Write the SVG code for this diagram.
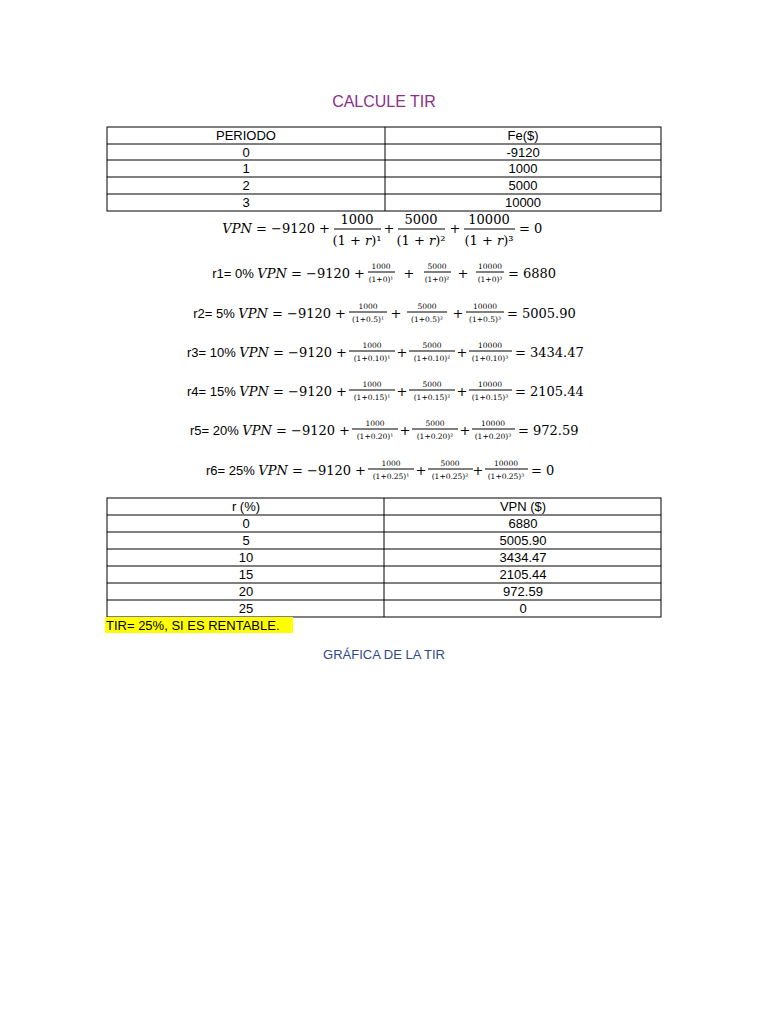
<svg xmlns="http://www.w3.org/2000/svg" width="768" height="1024" viewBox="0 0 768 1024">
<style>
.s{font-family:"Liberation Sans",Arial,sans-serif;font-size:13px;fill:#000}
.c{text-anchor:middle}
.m{font-family:"DejaVu Serif","Liberation Serif",serif;font-size:13px;fill:#000}
.i{font-style:italic}
.f{font-family:"DejaVu Serif","Liberation Serif",serif;font-size:7.5px;text-anchor:middle}
.g{stroke:#000;stroke-width:1;fill:none}
</style>
<rect width="768" height="1024" fill="#fff"/>
<text x="384" y="107" class="s c" style="font-size:16px;fill:#8B2F87">CALCULE TIR</text>
<g id="table1">
<rect x="107" y="127" width="554" height="84" class="g"/>
<path d="M107 144H661M107 160H661M107 177H661M107 194H661M385 127V211" class="g"/>
<text x="246" y="140" class="s c">PERIODO</text><text x="523" y="140" class="s c">Fe($)</text>
<text x="246" y="157" class="s c">0</text><text x="523" y="157" class="s c">-9120</text>
<text x="246" y="173" class="s c">1</text><text x="523" y="173" class="s c">1000</text>
<text x="246" y="190" class="s c">2</text><text x="523" y="190" class="s c">5000</text>
<text x="246" y="207" class="s c">3</text><text x="523" y="207" class="s c">10000</text>
</g>
<g id="formula0">
<text x="330" y="233" class="m" text-anchor="end"><tspan class="i">VPN</tspan> = −9120 +</text>
<text x="357" y="224" class="m c" text-anchor="middle">1000</text><path d="M334 229H381" class="g"/><text x="357" y="245" class="m" text-anchor="middle">(1 + <tspan class="i">r</tspan>)¹</text>
<text x="389" y="233" class="m" text-anchor="middle">+</text>
<text x="421" y="224" class="m" text-anchor="middle">5000</text><path d="M398 229H445" class="g"/><text x="421" y="245" class="m" text-anchor="middle">(1 + <tspan class="i">r</tspan>)²</text>
<text x="455" y="233" class="m" text-anchor="middle">+</text>
<text x="489" y="224" class="m" text-anchor="middle">10000</text><path d="M464 229H515" class="g"/><text x="489" y="245" class="m" text-anchor="middle">(1 + <tspan class="i">r</tspan>)³</text>
<text x="519" y="233" class="m">= 0</text>
</g>
<g id="r1">
<text x="365" y="278" class="m" text-anchor="end"><tspan class="s">r1= 0% </tspan><tspan class="i">VPN</tspan> = −9120 +</text>
<text x="381" y="269" class="f">1000</text><path d="M368 272H395" class="g" stroke-width=".7"/><text x="381" y="282" class="f">(1+0)¹</text>
<text x="409" y="278" class="m" text-anchor="middle">+</text>
<text x="437" y="269" class="f">5000</text><path d="M424 272H451" class="g" stroke-width=".7"/><text x="437" y="282" class="f">(1+0)²</text>
<text x="463" y="278" class="m" text-anchor="middle">+</text>
<text x="490" y="269" class="f">10000</text><path d="M476 272H504" class="g" stroke-width=".7"/><text x="490" y="282" class="f">(1+0)³</text>
<text x="508" y="278" class="m">= 6880</text>
</g>
<g id="r2">
<text x="346" y="318" class="m" text-anchor="end"><tspan class="s">r2= 5% </tspan><tspan class="i">VPN</tspan> = −9120 +</text>
<text x="368" y="309" class="f">1000</text><path d="M349 312H387" class="g" stroke-width=".7"/><text x="368" y="322" class="f">(1+0.5)¹</text>
<text x="396" y="318" class="m" text-anchor="middle">+</text>
<text x="427" y="309" class="f">5000</text><path d="M407 312H447" class="g" stroke-width=".7"/><text x="427" y="322" class="f">(1+0.5)²</text>
<text x="458" y="318" class="m" text-anchor="middle">+</text>
<text x="485" y="309" class="f">10000</text><path d="M466 312H504" class="g" stroke-width=".7"/><text x="485" y="322" class="f">(1+0.5)³</text>
<text x="507" y="318" class="m">= 5005.90</text>
</g>
<g id="r3">
<text x="347" y="357" class="m" text-anchor="end"><tspan class="s">r3= 10% </tspan><tspan class="i">VPN</tspan> = −9120 +</text>
<text x="372" y="348" class="f">1000</text><path d="M349 351H395" class="g" stroke-width=".7"/><text x="372" y="361" class="f">(1+0.10)¹</text>
<text x="402" y="357" class="m" text-anchor="middle">+</text>
<text x="432" y="348" class="f">5000</text><path d="M409 351H455" class="g" stroke-width=".7"/><text x="432" y="361" class="f">(1+0.10)²</text>
<text x="462" y="357" class="m" text-anchor="middle">+</text>
<text x="490" y="348" class="f">10000</text><path d="M469 351H512" class="g" stroke-width=".7"/><text x="490" y="361" class="f">(1+0.10)³</text>
<text x="515" y="357" class="m">= 3434.47</text>
</g>
<g id="r4">
<text x="347" y="396" class="m" text-anchor="end"><tspan class="s">r4= 15% </tspan><tspan class="i">VPN</tspan> = −9120 +</text>
<text x="372" y="387" class="f">1000</text><path d="M349 390H395" class="g" stroke-width=".7"/><text x="372" y="400" class="f">(1+0.15)¹</text>
<text x="402" y="396" class="m" text-anchor="middle">+</text>
<text x="432" y="387" class="f">5000</text><path d="M409 390H455" class="g" stroke-width=".7"/><text x="432" y="400" class="f">(1+0.15)²</text>
<text x="462" y="396" class="m" text-anchor="middle">+</text>
<text x="490" y="387" class="f">10000</text><path d="M469 390H512" class="g" stroke-width=".7"/><text x="490" y="400" class="f">(1+0.15)³</text>
<text x="515" y="396" class="m">= 2105.44</text>
</g>
<g id="r5">
<text x="350" y="435" class="m" text-anchor="end"><tspan class="s">r5= 20% </tspan><tspan class="i">VPN</tspan> = −9120 +</text>
<text x="375" y="426" class="f">1000</text><path d="M352 429H398" class="g" stroke-width=".7"/><text x="375" y="439" class="f">(1+0.20)¹</text>
<text x="405" y="435" class="m" text-anchor="middle">+</text>
<text x="435" y="426" class="f">5000</text><path d="M412 429H458" class="g" stroke-width=".7"/><text x="435" y="439" class="f">(1+0.20)²</text>
<text x="465" y="435" class="m" text-anchor="middle">+</text>
<text x="493" y="426" class="f">10000</text><path d="M472 429H515" class="g" stroke-width=".7"/><text x="493" y="439" class="f">(1+0.20)³</text>
<text x="518" y="435" class="m">= 972.59</text>
</g>
<g id="r6">
<text x="366" y="475" class="m" text-anchor="end"><tspan class="s">r6= 25% </tspan><tspan class="i">VPN</tspan> = −9120 +</text>
<text x="391" y="466" class="f">1000</text><path d="M368 469H414" class="g" stroke-width=".7"/><text x="391" y="479" class="f">(1+0.25)¹</text>
<text x="421" y="475" class="m" text-anchor="middle">+</text>
<text x="450" y="466" class="f">5000</text><path d="M428 469H473" class="g" stroke-width=".7"/><text x="450" y="479" class="f">(1+0.25)²</text>
<text x="478" y="475" class="m" text-anchor="middle">+</text>
<text x="506" y="466" class="f">10000</text><path d="M485 469H528" class="g" stroke-width=".7"/><text x="506" y="479" class="f">(1+0.25)³</text>
<text x="531" y="475" class="m">= 0</text>
</g>
<g id="table2">
<rect x="107" y="498" width="554" height="119" class="g"/>
<path d="M107 515H661M107 532H661M107 549H661M107 566H661M107 583H661M107 600H661M384 498V617" class="g"/>
<text x="246" y="511" class="s c">r (%)</text><text x="523" y="511" class="s c">VPN ($)</text>
<text x="246" y="528" class="s c">0</text><text x="523" y="528" class="s c">6880</text>
<text x="246" y="545" class="s c">5</text><text x="523" y="545" class="s c">5005.90</text>
<text x="246" y="562" class="s c">10</text><text x="523" y="562" class="s c">3434.47</text>
<text x="246" y="579" class="s c">15</text><text x="523" y="579" class="s c">2105.44</text>
<text x="246" y="596" class="s c">20</text><text x="523" y="596" class="s c">972.59</text>
<text x="246" y="613" class="s c">25</text><text x="523" y="613" class="s c">0</text>
</g>
<rect x="105" y="617" width="188" height="16" fill="#ffff00"/>
<text x="106" y="630" class="s">TIR= 25%, SI ES RENTABLE.</text>
<text x="384" y="659" class="s c" style="fill:#2F4A8A">GRÁFICA DE LA TIR</text>
</svg>
